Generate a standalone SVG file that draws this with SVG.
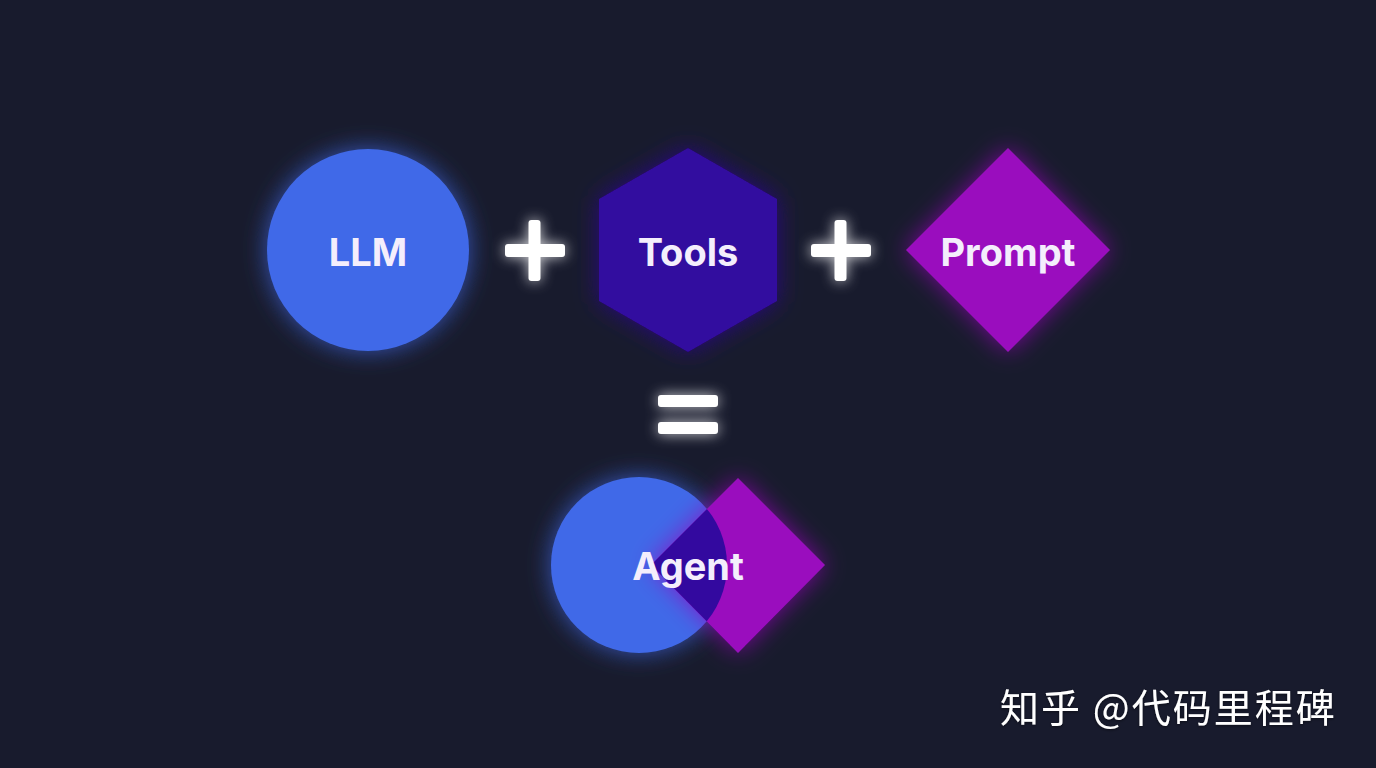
<svg xmlns="http://www.w3.org/2000/svg" width="1376" height="768" viewBox="0 0 1376 768">
  <defs>
    <filter id="glow" x="-50%" y="-50%" width="200%" height="200%">
      <feGaussianBlur in="SourceGraphic" stdDeviation="12" result="b"/>
      <feComponentTransfer in="b" result="bb"><feFuncA type="linear" slope="0.75"/></feComponentTransfer>
      <feMerge><feMergeNode in="bb"/><feMergeNode in="SourceGraphic"/></feMerge>
    </filter>
    <filter id="wglow" x="-60%" y="-60%" width="220%" height="220%">
      <feGaussianBlur in="SourceGraphic" stdDeviation="7" result="b"/>
      <feComponentTransfer in="b" result="bb"><feFuncA type="linear" slope="0.8"/></feComponentTransfer>
      <feMerge><feMergeNode in="bb"/><feMergeNode in="SourceGraphic"/></feMerge>
    </filter>
    <filter id="tshadow" x="-10%" y="-30%" width="120%" height="160%">
      <feDropShadow dx="0" dy="1" stdDeviation="1.5" flood-color="#000000" flood-opacity="0.5"/>
    </filter>
    <clipPath id="agentCircleClip">
      <circle cx="639" cy="565" r="88"/>
    </clipPath>
    <style>
      .label { font-family: Inter, "Liberation Sans", sans-serif; font-weight: 700; font-size: 38px; fill: #f4eefc; text-anchor: middle; }
      .op { fill: #ffffff; }
      .blue { fill: #4169e8; }
      .indigo { fill: #33099f; }
      .magenta { fill: #9a10be; }
      .wm { font-family: "Noto Sans CJK SC", "Liberation Sans", sans-serif; font-weight: 400; font-size: 39px; letter-spacing: 2px; fill: #ffffff; }
    </style>
  </defs>
  <rect width="1376" height="768" fill="#181b2d"/>

  <g id="llm">
    <circle class="blue" cx="368" cy="250" r="101" filter="url(#glow)"/>
    <text class="label" x="368" y="266">LLM</text>
  </g>

  <g id="connectors">
    <g id="plus1" class="op" filter="url(#wglow)">
      <rect x="505" y="244" width="60" height="13" rx="3"/>
      <rect x="528.5" y="220" width="12" height="61" rx="3"/>
    </g>
    <g id="plus2" class="op" filter="url(#wglow)">
      <rect x="811" y="244" width="60" height="13" rx="3"/>
      <rect x="834.5" y="220" width="12" height="61" rx="3"/>
    </g>
    <g id="equals" class="op" filter="url(#wglow)">
      <rect x="658" y="395" width="60" height="12" rx="3"/>
      <rect x="658" y="422" width="60" height="12" rx="3"/>
    </g>
  </g>

  <g id="tools">
    <polygon class="indigo" points="688,148 777,199 777,301 688,352 599,301 599,199" filter="url(#glow)"/>
    <text class="label" x="688" y="266">Tools</text>
  </g>

  <g id="prompt">
    <polygon class="magenta" points="1008,148 1110,250 1008,352 906,250" filter="url(#glow)"/>
    <text class="label" x="1008" y="266">Prompt</text>
  </g>

  <g id="agent">
    <circle class="blue" cx="639" cy="565" r="88" filter="url(#glow)"/>
    <polygon class="magenta" points="738,478 825,565 738,653 651,565" filter="url(#glow)"/>
    <polygon class="indigo" points="738,478 825,565 738,653 651,565" clip-path="url(#agentCircleClip)"/>
    <text class="label" x="688" y="580">Agent</text>
  </g>

  <g id="watermark">
    <text class="wm" x="1000" y="722" filter="url(#tshadow)">知乎 @代码里程碑</text>
  </g>
</svg>
